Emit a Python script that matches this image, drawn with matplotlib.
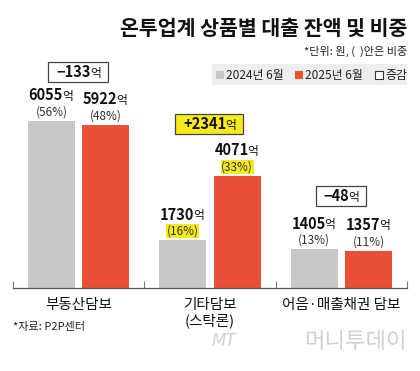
import matplotlib
matplotlib.use("Agg")
import matplotlib.pyplot as plt
from matplotlib.patches import Rectangle
import numpy as np

plt.rcParams['font.family'] = ['Noto Sans CJK KR', 'DejaVu Sans']

categories = ["부동산담보", "기타담보\n(스탁론)", "어음·매출채권 담보"]
v2024 = [6055, 1730, 1405]
v2025 = [5922, 4071, 1357]
p2024 = ["(56%)", "(16%)", "(13%)"]
p2025 = ["(48%)", "(33%)", "(11%)"]
changes = ["−133", "+2341", "−48"]
highlight = [False, True, False]

GRAY = "#c8c8c8"
RED = "#ea5038"
YELLOW = "#f7ea1c"

fig = plt.figure(figsize=(4.2, 3.71), dpi=100)
ax = fig.add_axes([13/420, (371-288)/371, 394/420, 193/371])
x = np.arange(len(categories))
w = 0.36
off = 0.207
ax.bar(x - off, v2024, w, color=GRAY, zorder=2)
ax.bar(x + off, v2025, w, color=RED, zorder=2)
ax.set_xlim(-0.5, 2.5)
ax.set_ylim(0, 7000)
for s in ["top", "left", "right"]:
    ax.spines[s].set_visible(False)
ax.spines["bottom"].set_color("#555555")
ax.spines["bottom"].set_linewidth(0.9)
ax.set_yticks([])
ax.set_xticks(x)
ax.set_xticklabels(categories, fontsize=10.5, linespacing=1.15, color="#111111")
ax.tick_params(axis='x', length=0, pad=7)
ax.set_xticks([-0.5, 0.5, 1.5, 2.5], minor=True)
ax.tick_params(axis='x', which='minor', length=5, direction='in', color="#777777", width=0.8)

def value_label(xc, v, pct, hl):
    t = ax.annotate(f"{v}", xy=(xc, v), xytext=(-4, 18.5), textcoords="offset points",
                    ha="center", va="center", fontsize=10.5, fontweight="bold",
                    color="#111111", zorder=5)
    ax.annotate("억", xy=(1, 0), xycoords=t, xytext=(-0.8, 0.3), textcoords="offset points",
                ha="left", va="bottom", fontsize=8.5, color="#111111")
    kw = {}
    if hl:
        kw["bbox"] = dict(boxstyle="square,pad=0.05", fc=YELLOW, ec="none")
    ax.annotate(pct, xy=(xc, v), xytext=(0, 6.5), textcoords="offset points",
                ha="center", va="center", fontsize=8.5, color="#333333", **kw)

for i in range(len(categories)):
    value_label(x[i] - off, v2024[i], p2024[i], highlight[i])
    value_label(x[i] + off, v2025[i], p2025[i], highlight[i])

# change boxes (y positions in pixels from top)
box_y = [72, 124, 196]
for i in range(len(categories)):
    fc = YELLOW if highlight[i] else "white"
    yfig = (371 - box_y[i]) / 371
    xfig = (13 + (x[i] + 0.5) * 394 / 3) / 420
    t = fig.text(xfig - 5/420, yfig, changes[i], ha="center", va="center", fontsize=10.5,
                 fontweight="bold", color="#111111", zorder=5)
    fig.canvas.draw()
    r = fig.canvas.get_renderer()
    bb = t.get_window_extent(r)
    t2 = fig.text(bb.x1 / 420 - 1.1/420, bb.y0 / 371 + 0.4/371, "억", fontsize=8.5, color="#111111",
                  va="bottom", ha="left")
    bb2 = t2.get_window_extent(r)
    x0 = bb.x0 - 8
    x1 = bb2.x1 + 7
    fig.patches.append(Rectangle((x0/420, yfig - 10/371), (x1 - x0)/420, 20/371,
                                 transform=fig.transFigure, fc=fc, ec="#444444", lw=0.9, zorder=1))

# title
fig.text(407/420, (371-28)/371, "온투업계 상품별 대출 잔액 및 비중", ha="right", va="center",
         fontsize=14.8, fontweight="bold", color="#111111")
fig.text(407/420, (371-51)/371, "*단위: 원, (  )안은 비중", ha="right", va="center",
         fontsize=8, color="#222222")

# legend
fig.patches.append(Rectangle((212/420, (371-85)/371), 195/420, 21/371, transform=fig.transFigure,
                             fc="#eeeeee", ec="none", zorder=0))
ly = (371-75)/371
items = [(GRAY, "none", "2024년 6월", 216), (RED, "none", "2025년 6월", 295), ("white", "#333333", "증감", 375)]
for fc, ec, lab, px in items:
    fig.patches.append(Rectangle((px/420, ly - 4/371), 8/420, 8/371, transform=fig.transFigure,
                                 fc=fc, ec=ec, lw=0.8, zorder=2))
    fig.text((px + 10)/420, ly, lab, ha="left", va="center", fontsize=8.6, color="#222222")

# source
fig.text(13/420, (371-327)/371, "*자료: P2P센터", ha="left", va="center", fontsize=8, color="#222222")

# watermark
fig.text(212/420, (371-341)/371, "MT", ha="left", va="center", fontsize=12, style="italic",
         color="#d0d0d0", family="DejaVu Sans")
fig.text(407/420, (371-341)/371, "머니투데이", ha="right", va="center", fontsize=16,
         color="#d0d0d0", fontweight="light")

fig.savefig("out.png", dpi=100)
